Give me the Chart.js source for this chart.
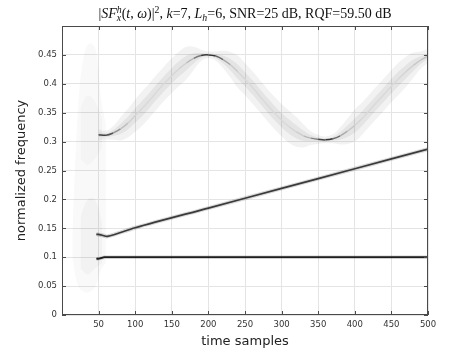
<!DOCTYPE html>
<html>
<head>
<meta charset="utf-8">
<script src="https://cdn.jsdelivr.net/npm/chart.js@4.4.1/dist/chart.umd.min.js"></script>
<style>
html,body{margin:0;padding:0;background:#fff;}
#wrap{width:474px;height:355px;}
</style>
</head>
<body>
<div id="wrap"><canvas id="c" width="474" height="355"></canvas></div>
<script>
// ---- data ----
const TITLE_TEXT = "|SF_x^h(t,ω)|², k=7, L_h=6, SNR=25 dB, RQF=59.50 dB";
const X_LABEL = "time samples";
const Y_LABEL = "normalized frequency";

const sinT = [50,60,70,80,90,100,110,120,130,140,150,160,170,180,190,200,210,220,230,240,250,260,270,280,290,300,310,320,330,340,350,360,370,380,390,400,410,420,430,440,450,460,470,480,490,500];
const sinF = [0.312,0.311,0.315,0.322,0.332,0.345,0.358,0.372,0.387,0.401,0.414,0.426,0.436,0.444,0.449,0.450,0.448,0.442,0.433,0.421,0.408,0.394,0.379,0.364,0.350,0.337,0.326,0.317,0.310,0.306,0.304,0.303,0.305,0.310,0.318,0.328,0.340,0.354,0.368,0.382,0.396,0.409,0.421,0.432,0.441,0.448];
const sinDark = [0.7,0.8,0.55,0.3,0.2,0.16,0.15,0.15,0.15,0.15,0.15,0.17,0.2,0.35,0.7,0.85,0.75,0.45,0.25,0.17,0.15,0.15,0.15,0.15,0.15,0.15,0.15,0.17,0.22,0.35,0.6,0.85,0.75,0.4,0.25,0.17,0.15,0.15,0.15,0.15,0.15,0.15,0.17,0.2,0.23,0.25];
const sinSpread = [0.01,0.008,0.012,0.02,0.025,0.028,0.03,0.03,0.03,0.03,0.03,0.03,0.028,0.02,0.01,0.006,0.008,0.015,0.022,0.028,0.028,0.028,0.028,0.028,0.028,0.028,0.028,0.026,0.02,0.012,0.008,0.006,0.008,0.015,0.022,0.028,0.028,0.028,0.028,0.028,0.028,0.028,0.026,0.022,0.015,0.012];

const chirpT = [47,55,62,100,200,300,400,500];
const chirpF = [0.140,0.138,0.136,0.151,0.185,0.219,0.253,0.287];

const constT = [47,52,58,65,500];
const constF = [0.097,0.098,0.100,0.100,0.100];

const hazeT = [14,22,30,38,46,54,60];
const hazeTop = [0.14,0.36,0.45,0.47,0.46,0.37,0.33];
const hazeBot = [0.10,0.05,0.04,0.04,0.05,0.08,0.09];

const haze2T = [25,35,45,55];
const haze2Top = [0.17,0.20,0.20,0.16];
const haze2Bot = [0.08,0.07,0.08,0.09];
const haze3Top = [0.36,0.38,0.37,0.34];
const haze3Bot = [0.27,0.26,0.27,0.29];

const xTicks = [50,100,150,200,250,300,350,400,450,500];
const yTicks = [0,0.05,0.1,0.15,0.2,0.25,0.3,0.35,0.4,0.45];

// ---- helpers ----
const pts = (xs, ys) => xs.map((x, i) => ({x: x, y: ys[i]}));
const grayOf = d => { const g = Math.round(255 * (1 - d)); return `rgb(${g},${g},${g})`; };
const band = (color, order) => ({ borderWidth: 0, pointRadius: 0, backgroundColor: color, order: order, tension: 0.4 });

const sinUpper = sinF.map((v, i) => v + sinSpread[i]);
const sinLower = sinF.map((v, i) => v - sinSpread[i]);
const sinUpper2 = sinF.map((v, i) => v + sinSpread[i] * 0.45);
const sinLower2 = sinF.map((v, i) => v - sinSpread[i] * 0.45);

const datasets = [
  Object.assign({data: pts(hazeT, hazeTop), fill: 1}, band('rgba(0,0,0,0.022)', 20)),
  Object.assign({data: pts(hazeT, hazeBot), fill: false}, band('rgba(0,0,0,0)', 20)),
  Object.assign({data: pts(haze2T, haze2Top), fill: 3}, band('rgba(0,0,0,0.03)', 19)),
  Object.assign({data: pts(haze2T, haze2Bot), fill: false}, band('rgba(0,0,0,0)', 19)),
  Object.assign({data: pts(haze2T, haze3Top), fill: 5}, band('rgba(0,0,0,0.025)', 19)),
  Object.assign({data: pts(haze2T, haze3Bot), fill: false}, band('rgba(0,0,0,0)', 19)),
  Object.assign({data: pts(sinT, sinUpper), fill: 7}, band('rgba(0,0,0,0.05)', 18)),
  Object.assign({data: pts(sinT, sinLower), fill: false}, band('rgba(0,0,0,0)', 18)),
  Object.assign({data: pts(sinT, sinUpper2), fill: 9}, band('rgba(0,0,0,0.06)', 17)),
  Object.assign({data: pts(sinT, sinLower2), fill: false}, band('rgba(0,0,0,0)', 17)),
  { data: pts(sinT, sinF), fill: false, pointRadius: 0, borderWidth: 1.5, tension: 0.4, order: 3,
    borderColor: '#aaa',
    segment: { borderColor: ctx => grayOf((sinDark[ctx.p0DataIndex] + sinDark[ctx.p1DataIndex]) / 2) } },
  { data: pts(chirpT, chirpF), fill: false, pointRadius: 0, borderWidth: 4, borderColor: 'rgba(0,0,0,0.15)', tension: 0.3, order: 2 },
  { data: pts(chirpT, chirpF), fill: false, pointRadius: 0, borderWidth: 1.7, borderColor: '#3a3a3a', tension: 0.3, order: 1 },
  { data: pts(constT, constF), fill: false, pointRadius: 0, borderWidth: 3.5, borderColor: 'rgba(0,0,0,0.18)', tension: 0.3, order: 2 },
  { data: pts(constT, constF), fill: false, pointRadius: 0, borderWidth: 1.8, borderColor: '#1e1e1e', tension: 0.3, order: 0 }
];

// ---- rich title (math style) ----
const titleSegs = [
  {t:'|'}, {t:'SF', i:true},
  {t:'h', i:true, s:0.7, dy:-5, stack:'x'},
  {t:'('}, {t:'t', i:true}, {t:', '}, {t:'ω', i:true}, {t:')'}, {t:'|'},
  {t:'2', s:0.7, dy:-5}, {t:', '}, {t:'k', i:true}, {t:'=7, '},
  {t:'L', i:true}, {t:'h', i:true, s:0.7, dy:3}, {t:'=6, SNR=25 dB, RQF=59.50 dB'}
];
const titlePlugin = {
  id: 'richTitle',
  afterDraw(chart) {
    const ctx = chart.ctx;
    const base = 14, fam = '"Liberation Serif", "DejaVu Serif", serif';
    const fontOf = sg => `${sg.i ? 'italic ' : ''}${(sg.s || 1) * base}px ${fam}`;
    ctx.save();
    let total = 0;
    const widths = titleSegs.map(sg => {
      ctx.font = fontOf(sg);
      let w = ctx.measureText(sg.t).width;
      if (sg.stack) { ctx.font = fontOf({i:true, s:sg.s}); w = Math.max(w, ctx.measureText(sg.stack).width); }
      total += w; return w;
    });
    const ca = chart.chartArea;
    let x = (ca.left + ca.right) / 2 - total / 2;
    const y = 18;
    ctx.fillStyle = '#111';
    ctx.textBaseline = 'alphabetic';
    ctx.textAlign = 'left';
    titleSegs.forEach((sg, k) => {
      ctx.font = fontOf(sg);
      ctx.fillText(sg.t, x, y + (sg.dy || 0));
      if (sg.stack) { ctx.font = fontOf({i:true, s:sg.s}); ctx.fillText(sg.stack, x, y + 3); }
      x += widths[k];
    });
    ctx.restore();
  }
};

// ---- box & inward ticks ----
const boxPlugin = {
  id: 'box',
  afterDatasetsDraw(chart) {
    const ctx = chart.ctx, ca = chart.chartArea;
    const xs = chart.scales.x, ys = chart.scales.y;
    ctx.save();
    ctx.strokeStyle = '#4a4a4a';
    ctx.lineWidth = 1;
    ctx.strokeRect(Math.round(ca.left) + 0.5, Math.round(ca.top) + 0.5, Math.round(ca.right - ca.left) - 1, Math.round(ca.bottom - ca.top) - 1);
    ctx.beginPath();
    xTicks.forEach(v => {
      const p = Math.round(xs.getPixelForValue(v)) + 0.5;
      ctx.moveTo(p, ca.bottom); ctx.lineTo(p, ca.bottom - 4);
      ctx.moveTo(p, ca.top); ctx.lineTo(p, ca.top + 4);
    });
    yTicks.forEach(v => {
      const p = Math.round(ys.getPixelForValue(v)) + 0.5;
      ctx.moveTo(ca.left, p); ctx.lineTo(ca.left + 4, p);
      ctx.moveTo(ca.right, p); ctx.lineTo(ca.right - 4, p);
    });
    ctx.stroke();
    ctx.restore();
  }
};

const tickFont = { family: '"DejaVu Sans", sans-serif', size: 8.5 };
new Chart(document.getElementById('c'), {
  type: 'line',
  data: { datasets: datasets },
  options: {
    responsive: false,
    devicePixelRatio: 1,
    animation: false,
    events: [],
    layout: { padding: { left: 0, right: 46, top: 26, bottom: 0 } },
    plugins: { legend: { display: false }, tooltip: { enabled: false }, title: { display: false, text: TITLE_TEXT } },
    scales: {
      x: {
        type: 'linear', min: 0, max: 500,
        afterFit: s => { s.height = 40; },
        afterBuildTicks: s => { s.ticks = [0].concat(xTicks).map(v => ({ value: v })); },
        grid: { color: '#e4e4e4', lineWidth: 1, drawTicks: false },
        border: { display: false },
        ticks: { font: tickFont, color: '#333', padding: 5, maxRotation: 0, autoSkip: false,
                 callback: v => (v === 0 ? '' : String(v)) },
        title: { display: true, text: X_LABEL, font: { family: '"DejaVu Sans", sans-serif', size: 13 }, color: '#222', padding: { top: 0, bottom: 6 } }
      },
      y: {
        type: 'linear', min: 0, max: 0.5,
        afterFit: s => { s.width = 62; },
        afterBuildTicks: s => { s.ticks = yTicks.concat([0.5]).map(v => ({ value: v })); },
        grid: { color: '#e4e4e4', lineWidth: 1, drawTicks: false },
        border: { display: false },
        ticks: { font: tickFont, color: '#333', padding: 5, autoSkip: false,
                 callback: v => (v >= 0.5 ? '' : String(Math.round(v * 100) / 100)) },
        title: { display: true, text: Y_LABEL, font: { family: '"DejaVu Sans", sans-serif', size: 13 }, color: '#222', padding: { top: 14, bottom: 0 } }
      }
    }
  },
  plugins: [titlePlugin, boxPlugin]
});
</script>
</body>
</html>
